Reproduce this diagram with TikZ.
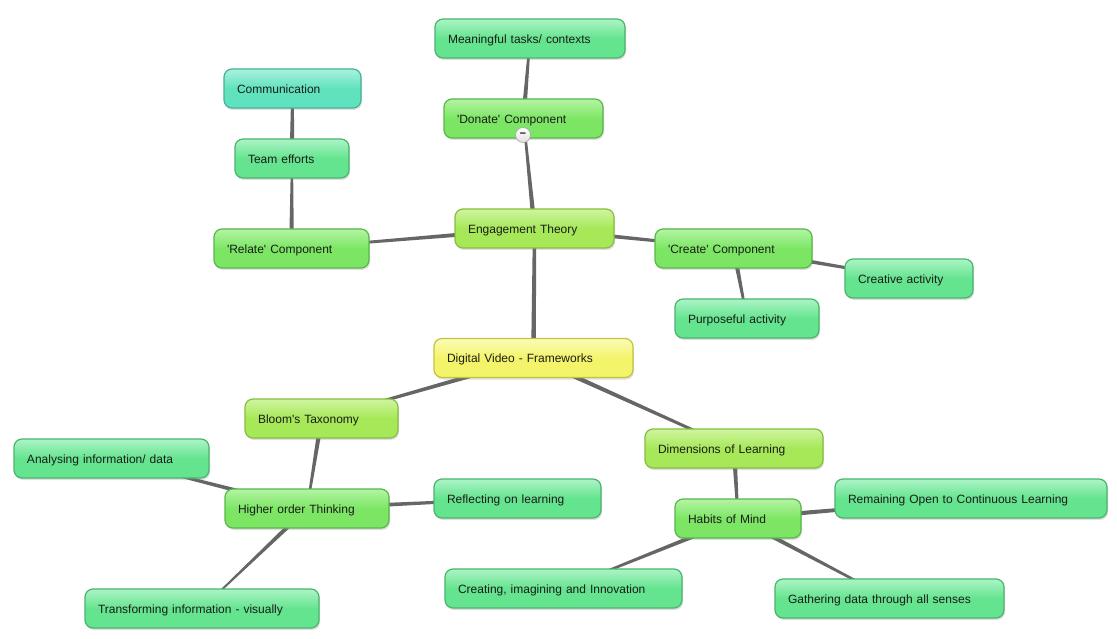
\documentclass[tikz,border=0pt]{standalone}
\usepackage{fontspec}
\setmainfont{Liberation Sans}[Ligatures=TeXOff]
\usetikzlibrary{calc,shadows}
\pgfdeclarelayer{background}
\pgfsetlayers{background,main}
\definecolor{linkc}{HTML}{666666}
\definecolor{txtc}{HTML}{1C1C1C}
\definecolor{fA}{HTML}{F4F46A}\definecolor{tA}{HTML}{FBFBB8}\definecolor{bA}{HTML}{C4C43C}
\definecolor{fB}{HTML}{A6E858}\definecolor{tB}{HTML}{CFF5A0}\definecolor{bB}{HTML}{88BC42}
\definecolor{fC}{HTML}{7CE664}\definecolor{tC}{HTML}{B4F4A4}\definecolor{bC}{HTML}{58B64A}
\definecolor{fD}{HTML}{64E48E}\definecolor{tD}{HTML}{ACF4C6}\definecolor{bD}{HTML}{4AB46E}
\definecolor{fE}{HTML}{60E2BE}\definecolor{tE}{HTML}{AAF2DE}\definecolor{bE}{HTML}{46B294}
\tikzset{
  box/.style={rectangle, rounded corners=8pt, line width=1.2pt, minimum height=39pt,
    inner xsep=13pt, inner ysep=4pt, align=left, text=txtc,
    text height=11pt, text depth=1.4pt,
    font=\fontsize{12}{14}\selectfont,
    drop shadow={opacity=0.25, shadow xshift=1pt, shadow yshift=-2pt}},
  tw/.style={text width=#1},
  lvA/.style={box, draw=bA, top color=tA, bottom color=fA, middle color=fA},
  lvB/.style={box, draw=bB, top color=tB, bottom color=fB, middle color=fB},
  lvC/.style={box, draw=bC, top color=tC, bottom color=fC, middle color=fC},
  lvD/.style={box, draw=bD, top color=tD, bottom color=fD, middle color=fD},
  lvE/.style={box, draw=bE, top color=tE, bottom color=fE, middle color=fE},
  link/.style={fill=linkc},
  collapsebtn/.style={circle, draw=gray!70, line width=0.6pt, top color=white, bottom color=gray!25,
    minimum size=15pt, inner sep=0pt, font=\bfseries\fontsize{11}{11}\selectfont}
}
\newcommand\conn[4][]{%
  \fill[link] ($(#2.center)!2.4pt!90:(#3.center)$) -- ($(#3.center)!#4!-90:(#2.center)$)
    -- ($(#3.center)!#4!90:(#2.center)$) -- ($(#2.center)!2.4pt!-90:(#3.center)$) -- cycle;}
\begin{document}
\begin{tikzpicture}[x=1pt,y=-1pt]
\useasboundingbox (0,0) rectangle (1117,639);
% root
\node[lvA, tw=173pt] (dv) at (533.5,358) {Digital Video - Frameworks};
% level 1
\node[lvB, tw=133pt] (eng) at (534.5,228.5) {Engagement Theory};
\node[lvB, tw=127pt] (bloom) at (321.5,418.5) {Bloom's Taxonomy};
\node[lvB, tw=152pt] (dim) at (734,448.5) {Dimensions of Learning};
% level 2
\node[lvC, tw=133pt] (donate) at (523.5,118.5) {'Donate' Component};
\node[lvC, tw=129pt] (relate) at (291.5,248.5) {'Relate' Component};
\node[lvC, tw=131pt] (create) at (733.5,248.5) {'Create' Component};
\node[lvC, tw=138pt] (higher) at (307,508.5) {Higher order Thinking};
\node[lvC, tw=100pt] (habits) at (738,518.5) {Habits of Mind};
% level 3
\node[lvD, tw=164pt] (mean) at (530,38.5) {Meaningful tasks/ contexts};
\node[lvD, tw=88pt] (team) at (292,158.5) {Team efforts};
\node[lvD, tw=102pt] (creative) at (909,278.5) {Creative activity};
\node[lvD, tw=118pt] (purpose) at (747,318.5) {Purposeful activity};
\node[lvD, tw=169pt] (anal) at (111.5,458.5) {Analysing information/ data};
\node[lvD, tw=141pt] (reflect) at (517.5,498.5) {Reflecting on learning};
\node[lvD, tw=208pt] (trans) at (202,608.5) {Transforming information - visually};
\node[lvD, tw=246pt] (remain) at (971,498.5) {Remaining Open to Continuous Learning};
\node[lvD, tw=211pt] (creating) at (563.5,588.5) {Creating, imagining and Innovation};
\node[lvD, tw=203pt] (gather) at (889.5,598.5) {Gathering data through all senses};
% level 4
\node[lvE, tw=111pt] (comm) at (292.5,88.5) {Communication};
% collapse button
\node[collapsebtn] (minus) at (523,135) {\raisebox{0.5pt}{\textendash}};
\begin{pgfonlayer}{background}
\fill[white] (0,0) rectangle (1117,639);
\conn{dv}{eng}{1.6pt}
\conn{dv}{bloom}{1.2pt}
\conn{dv}{dim}{1.2pt}
\conn{eng}{donate}{1.0pt}
\conn{eng}{relate}{1.0pt}
\conn{eng}{create}{1.0pt}
\conn{donate}{mean}{1.0pt}
\conn{relate}{team}{1.0pt}
\conn{team}{comm}{1.2pt}
\conn{create}{creative}{1.0pt}
\conn{create}{purpose}{1.0pt}
\conn{bloom}{higher}{1.0pt}
\conn{higher}{anal}{1.0pt}
\conn{higher}{reflect}{1.0pt}
\conn{higher}{trans}{0.6pt}
\conn{dim}{habits}{1.2pt}
\conn{habits}{remain}{1.2pt}
\conn{habits}{creating}{0.9pt}
\conn{habits}{gather}{0.9pt}
\end{pgfonlayer}
\end{tikzpicture}
\end{document}
